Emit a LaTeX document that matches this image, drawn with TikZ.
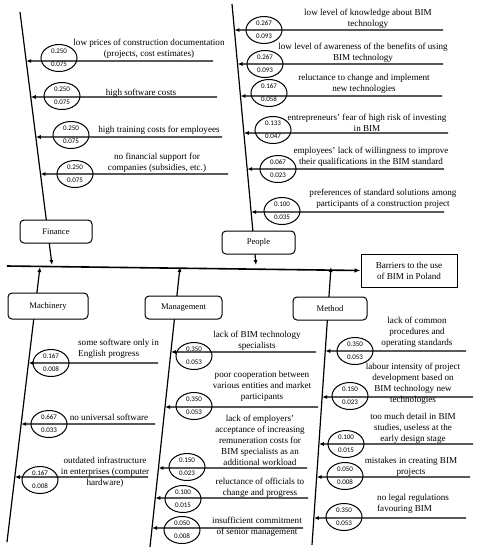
\documentclass[tikz,border=0pt]{standalone}
\usepackage{fontspec}
\setmainfont{Liberation Serif}
\newfontfamily\numfont{Carlito}
\usetikzlibrary{arrows.meta,shapes.geometric,intersections,calc}
\tikzset{
  arr/.style={line width=1.2pt,-{Latex[length=5pt,width=4pt]}},
  spine/.style={line width=1.2pt,-{Latex[length=5pt,width=4pt]}},
  mainln/.style={line width=1.6pt,-{Latex[length=6pt,width=4.5pt]}},
  val/.style={draw,ellipse,line width=1pt,minimum width=36pt,minimum height=27pt,inner sep=0pt},
  num/.style={inner sep=0pt,font=\numfont\fontsize{7}{8}\selectfont},
  txt/.style={inner sep=0pt,align=center,font=\fontsize{9.1}{11}\selectfont},
  txtl/.style={inner sep=0pt,align=left,font=\fontsize{9.1}{11}\selectfont},
  cat/.style={draw,rounded corners=4pt,fill=white,line width=1pt,inner sep=0pt,font=\fontsize{8.6}{10}\selectfont},
  effect/.style={draw,fill=white,line width=1pt,inner sep=0pt,align=center,font=\fontsize{9.1}{11}\selectfont}
}
\newcommand\cl[4]{%
  \coordinate (#1s) at (#3,#4);
  \path[name path=h#1] (#1s) -- (0,#4);
  \path[name intersections={of=#2 and h#1, by=#1e}];
  \draw[arr] (#1s) -- (#1e);}
\newcommand\vals[5]{%
  \node[val] (#1o) at (#2,#3) {};
  \node[num] (#1a) at ([yshift=6.5pt]#1o.center) {#4};
  \node[num] (#1b) at ([yshift=-6.5pt]#1o.center) {#5};}
\begin{document}
\begin{tikzpicture}[x=1pt,y=-1pt]
\useasboundingbox (0,0) rectangle (477,550);
% spines
\coordinate (Ft) at (20,12); \coordinate (Fb) at (52,265);
\coordinate (Pt) at (232,4); \coordinate (Pb) at (256,265);
\coordinate (Mb) at (7,542); \coordinate (Mt) at (40,267);
\coordinate (Gb) at (150,547); \coordinate (Gt) at (180,267);
\coordinate (Tb) at (312,545); \coordinate (Tt) at (331,267);
\coordinate (L0) at (7,266);
\draw[spine,name path=spF] (Ft) -- (Fb);
\draw[spine,name path=spP] (Pt) -- (Pb);
\draw[spine,name path=spM] (Mb) -- (Mt);
\draw[spine,name path=spG] (Gb) -- (Gt);
\draw[spine,name path=spT] (Tb) -- (Tt);
\node[effect,minimum width=96pt,minimum height=33pt] (eff) at (409,270.5) {Barriers to the use\\of BIM in Poland};
\draw[mainln] (L0) -- (eff.west);
% category boxes
\node[cat,minimum width=72pt,minimum height=23pt] (fin) at (56,231.5) {Finance};
\node[cat,minimum width=73pt,minimum height=23pt] (peo) at (258.5,242.5) {People};
\node[cat,minimum width=80pt,minimum height=26pt] (mac) at (48,306) {Machinery};
\node[cat,minimum width=77pt,minimum height=23pt] (man) at (183.5,307.5) {Management};
\node[cat,minimum width=74pt,minimum height=23pt] (met) at (330,308.5) {Method};
% Finance
\cl{F1}{spF}{213}{61} \vals{F1}{59}{58}{0.250}{0.075}
\node[txt] (F1t) at (149,48.5) {low prices of construction documentation\\(projects, cost estimates)};
\cl{F2}{spF}{217}{97} \vals{F2}{62}{96}{0.250}{0.075}
\node[txt] (F2t) at (141,93) {high software costs};
\cl{F3}{spF}{222}{137} \vals{F3}{71}{135}{0.250}{0.075}
\node[txt] (F3t) at (159,130) {high training costs for employees};
\cl{F4}{spF}{228}{174} \vals{F4}{75}{174}{0.250}{0.075}
\node[txt] (F4t) at (157,162.5) {no financial support for\\companies (subsidies, etc.)};
% People
\cl{P1}{spP}{443}{30} \vals{P1}{264}{30}{0.267}{0.093}
\node[txt] (P1t) at (368,19) {low level of knowledge about BIM\\technology};
\cl{P2}{spP}{443}{64} \vals{P2}{265}{64}{0.267}{0.093}
\node[txt] (P2t) at (363,53) {low level of awareness of the benefits of using\\BIM technology};
\cl{P3}{spP}{442}{96} \vals{P3}{269}{93}{0.167}{0.058}
\node[txt] (P3t) at (364,83.5) {reluctance to change and implement\\new technologies};
\cl{P4}{spP}{448}{133} \vals{P4}{273}{130}{0.133}{0.047}
\node[txt] (P4t) at (367,122.5) {entrepreneurs' fear of high risk of investing\\in BIM};
\cl{P5}{spP}{444}{169} \vals{P5}{278}{169}{0.067}{0.023}
\node[txt] (P5t) at (371,156.5) {employees' lack of willingness to improve\\their qualifications in the BIM standard};
\cl{P6}{spP}{444}{212} \vals{P6}{282}{211}{0.100}{0.035}
\node[txt] (P6t) at (383,198.5) {preferences of standard solutions among\\participants of a construction project};
% Machinery
\cl{M1}{spM}{158}{363} \vals{M1}{51}{363}{0.167}{0.008}
\node[txtl,anchor=west] (M1t) at (78,349) {some software only in\\English progress};
\cl{M2}{spM}{155}{424} \vals{M2}{49}{424}{0.667}{0.033}
\node[txt] (M2t) at (109,417) {no universal software};
\cl{M3}{spM}{148}{477} \vals{M3}{40}{480}{0.167}{0.008}
\node[txt] (M3t) at (105,472) {outdated infrastructure\\in enterprises (computer\\hardware)};
% Management
\cl{G1}{spG}{316}{352} \vals{G1}{194}{356}{0.350}{0.053}
\node[txt] (G1t) at (257,341) {lack of BIM technology\\specialists};
\cl{G2}{spG}{318}{407} \vals{G2}{194}{406}{0.350}{0.053}
\node[txt] (G2t) at (262,386) {poor cooperation between\\various entities and market\\participants};
\cl{G3}{spG}{307}{468} \vals{G3}{187}{467}{0.150}{0.023}
\node[txt] (G3t) at (260,440) {lack of employers'\\acceptance of increasing\\remuneration costs for\\BIM specialists as an\\additional workload};
\cl{G4}{spG}{308}{498} \vals{G4}{183}{499}{0.100}{0.015}
\node[txt] (G4t) at (260,487.5) {reluctance of officials to\\change and progress};
\cl{G5}{spG}{303}{528} \vals{G5}{182}{530}{0.050}{0.008}
\node[txt] (G5t) at (257,527) {insufficient commitment\\of senior management};
% Method
\cl{T1}{spT}{466}{351} \vals{T1}{355}{351}{0.350}{0.053}
\node[txt] (T1t) at (417,332) {lack of common\\procedures and\\operating standards};
\cl{T2}{spT}{473}{397} \vals{T2}{350}{396}{0.150}{0.023}
\node[txt] (T2t) at (413,383.5) {labour intensity of project\\development based on\\BIM technology new\\technologies};
\cl{T3}{spT}{473}{444} \vals{T3}{346}{444}{0.100}{0.015}
\node[txt] (T3t) at (413,428) {too much detail in BIM\\studies, useless at the\\early design stage};
\cl{T4}{spT}{470}{477} \vals{T4}{345}{476}{0.050}{0.008}
\node[txt] (T4t) at (411,466.5) {mistakes in creating BIM\\projects};
\cl{T5}{spT}{466}{518} \vals{T5}{344}{517}{0.350}{0.053}
\node[txtl,anchor=west] (T5t) at (377,503.5) {no legal regulations\\favouring BIM};
\end{tikzpicture}
\end{document}
